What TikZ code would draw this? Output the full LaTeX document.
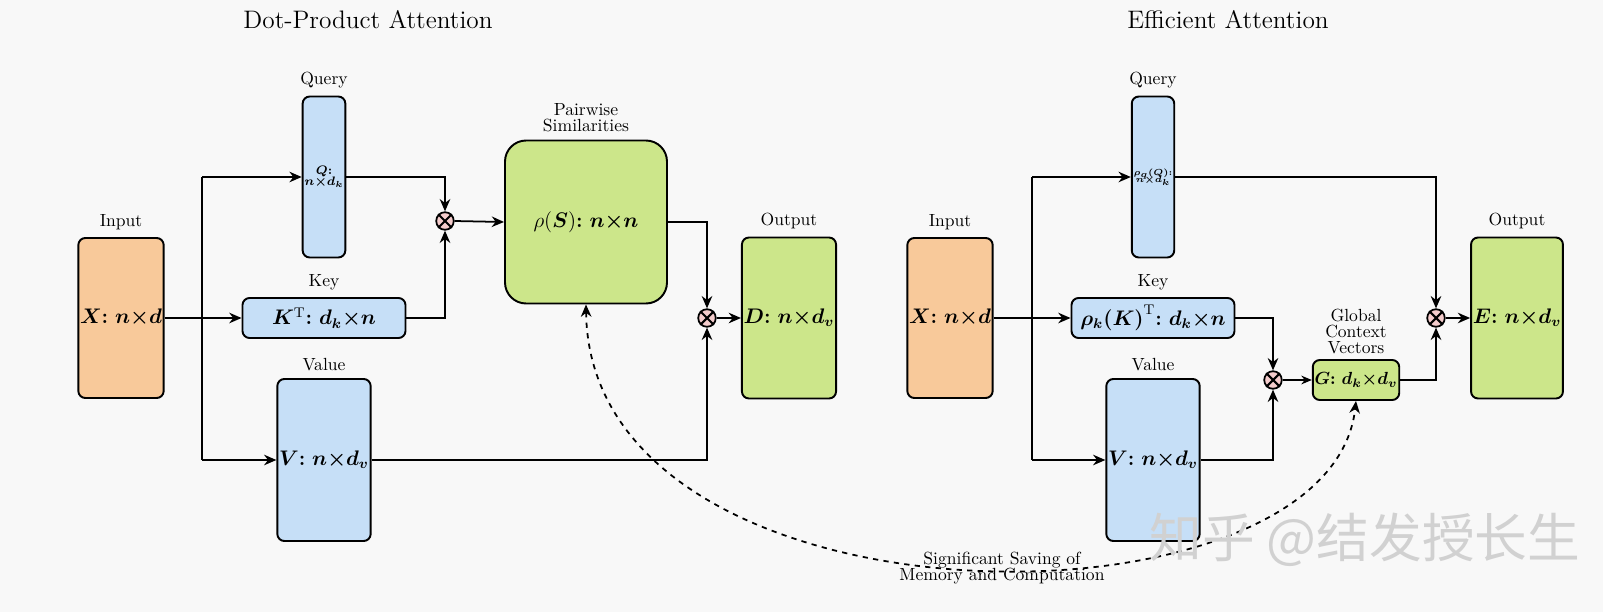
\documentclass[tikz,border=0pt]{standalone}
\usepackage{amsmath,bm}
\usepackage{fontspec}
\newfontfamily\cjk{Noto Sans CJK SC}
\usetikzlibrary{arrows.meta}
\definecolor{cOr}{RGB}{248,201,154}
\definecolor{cBl}{RGB}{198,223,247}
\definecolor{cGr}{RGB}{204,230,138}
\definecolor{cPk}{RGB}{244,204,204}
\definecolor{cBg}{RGB}{248,248,248}
\begin{document}
\begin{tikzpicture}[x=0.02cm,y=-0.02cm,
 box/.style={draw,line width=1.1pt,rounded corners=4pt,inner sep=1pt,align=center,font=\large},
 ob/.style={box,fill=cOr},
 bb/.style={box,fill=cBl},
 gb/.style={box,fill=cGr},
 lab/.style={font=\normalsize,align=center,inner sep=1pt,anchor=south},
 ot/.style={draw,circle,line width=1pt,fill=cPk,minimum size=10pt,inner sep=0pt},
 ar/.style={line width=1pt,-{Stealth[length=7pt,width=6pt]}},
 ln/.style={line width=1pt}]
\fill[cBg] (0,0) rectangle (1603,612);
\useasboundingbox (0,0) rectangle (1603,612);
\newcommand\otx[1]{\draw[line width=1.2pt] (#1.45)--(#1.225) (#1.135)--(#1.315);}
% ---------- left
\node[font=\Large] (t1) at (368,20) {Dot-Product Attention};
\node[ob,minimum width=80*0.02cm,minimum height=160*0.02cm] (X) at (121,318) {$\bm{X}\textbf{:}\ \bm{n{\times}d}$};
\node[lab] (lX) at ([yshift=3pt]X.north) {Input};
\node[bb,minimum width=41*0.02cm,minimum height=161*0.02cm,font=\scriptsize] (Q) at (324,177) {$\bm{Q}\textbf{:}$\\[-2pt]$\bm{n{\times}d_k}$};
\node[lab] (lQ) at ([yshift=3pt]Q.north) {Query};
\node[bb,minimum width=163*0.02cm,minimum height=40*0.02cm] (K) at (324,318) {$\bm{K}^{\mathrm{T}}\textbf{:}\ \bm{d_k{\times}n}$};
\node[lab] (lK) at ([yshift=3pt]K.north) {Key};
\node[bb,minimum width=81*0.02cm,minimum height=162*0.02cm] (V) at (324,460) {$\bm{V}\textbf{:}\ \bm{n{\times}d_v}$};
\node[lab] (lV) at ([yshift=3pt]V.north) {Value};
\node[ot] (o1) at (445,221) {}; \otx{o1}
\node[gb,rounded corners=12pt,minimum width=162*0.02cm,minimum height=163*0.02cm] (S) at (586,222) {$\rho(\bm{S})\textbf{:}\ \bm{n{\times}n}$};
\node[lab] (lS) at ([yshift=3pt]S.north) {Pairwise\\[-3pt]Similarities};
\node[ot] (o2) at (707,318) {}; \otx{o2}
\node[gb,minimum width=81*0.02cm,minimum height=161*0.02cm] (D) at (789,318) {$\bm{D}\textbf{:}\ \bm{n{\times}d_v}$};
\node[lab] (lD) at ([yshift=3pt]D.north) {Output};
\coordinate (b1) at (202,318);
\draw[ar] (X.east) -- (K.west);
\draw[ln] (b1) -- (202,177);
\draw[ar] (202,177) -- (Q.west);
\draw[ln] (b1) -- (202,460);
\draw[ar] (202,460) -- (V.west);
\draw[ar] (Q.east) -| (o1.north);
\draw[ar] (K.east) -| (o1.south);
\draw[ar] (o1.east) -- (S.west);
\draw[ar] (S.east) -| (o2.north);
\draw[ar] (V.east) -| (o2.south);
\draw[ar] (o2.east) -- (D.west);
% ---------- right
\node[font=\Large] (t2) at (1228,20) {Efficient Attention};
\node[ob,minimum width=80*0.02cm,minimum height=160*0.02cm] (X2) at (950,318) {$\bm{X}\textbf{:}\ \bm{n{\times}d}$};
\node[lab] (lX2) at ([yshift=3pt]X2.north) {Input};
\node[bb,minimum width=41*0.02cm,minimum height=161*0.02cm,font=\tiny] (Q2) at (1153,177) {$\bm{\rho_q(Q)}\textbf{:}$\\[-2pt]$\bm{n{\times}d_k}$};
\node[lab] (lQ2) at ([yshift=3pt]Q2.north) {Query};
\node[bb,minimum width=163*0.02cm,minimum height=40*0.02cm] (K2) at (1153,318) {$\bm{\rho_k(K)}^{\mathrm{T}}\textbf{:}\ \bm{d_k{\times}n}$};
\node[lab] (lK2) at ([yshift=3pt]K2.north) {Key};
\node[bb,minimum width=81*0.02cm,minimum height=162*0.02cm] (V2) at (1153,460) {$\bm{V}\textbf{:}\ \bm{n{\times}d_v}$};
\node[lab] (lV2) at ([yshift=3pt]V2.north) {Value};
\node[ot] (o3) at (1273,380) {}; \otx{o3}
\node[gb,minimum width=81*0.02cm,minimum height=40*0.02cm,font=\normalsize] (G) at (1356,380) {$\bm{G}\textbf{:}\ \bm{d_k{\times}d_v}$};
\node[lab] (lG) at ([yshift=2pt]G.north) {Global\\[-3pt]Context\\[-3pt]Vectors};
\node[ot] (o4) at (1436,318) {}; \otx{o4}
\node[gb,minimum width=81*0.02cm,minimum height=161*0.02cm] (E) at (1517,318) {$\bm{E}\textbf{:}\ \bm{n{\times}d_v}$};
\node[lab] (lE) at ([yshift=3pt]E.north) {Output};
\coordinate (b2) at (1032,318);
\draw[ar] (X2.east) -- (K2.west);
\draw[ln] (b2) -- (1032,177);
\draw[ar] (1032,177) -- (Q2.west);
\draw[ln] (b2) -- (1032,460);
\draw[ar] (1032,460) -- (V2.west);
\draw[ar] (K2.east) -| (o3.north);
\draw[ar] (V2.east) -| (o3.south);
\draw[line width=0.7pt,-{Stealth[length=6pt,width=5pt]}] (o3.east) -- (G.west);
\draw[ar] (Q2.east) -| (o4.north);
\draw[ar] (G.east) -| (o4.south);
\draw[ar] (o4.east) -- (E.west);
% ---------- saving
\draw[line width=1pt,dashed,{Stealth[length=7pt,width=6pt]}-{Stealth[length=7pt,width=6pt]}] (S.south) .. controls (590,640) and (1330,640) .. (G.south);
\node[lab,anchor=center] (sv) at (1002,568) {Significant Saving of\\[-3pt]Memory and Computation};
\node[font=\cjk\fontsize{30}{30}\selectfont,text=black!18] (wm) at (1365,540) {知乎 @结发授长生};
\end{tikzpicture}
\end{document}
